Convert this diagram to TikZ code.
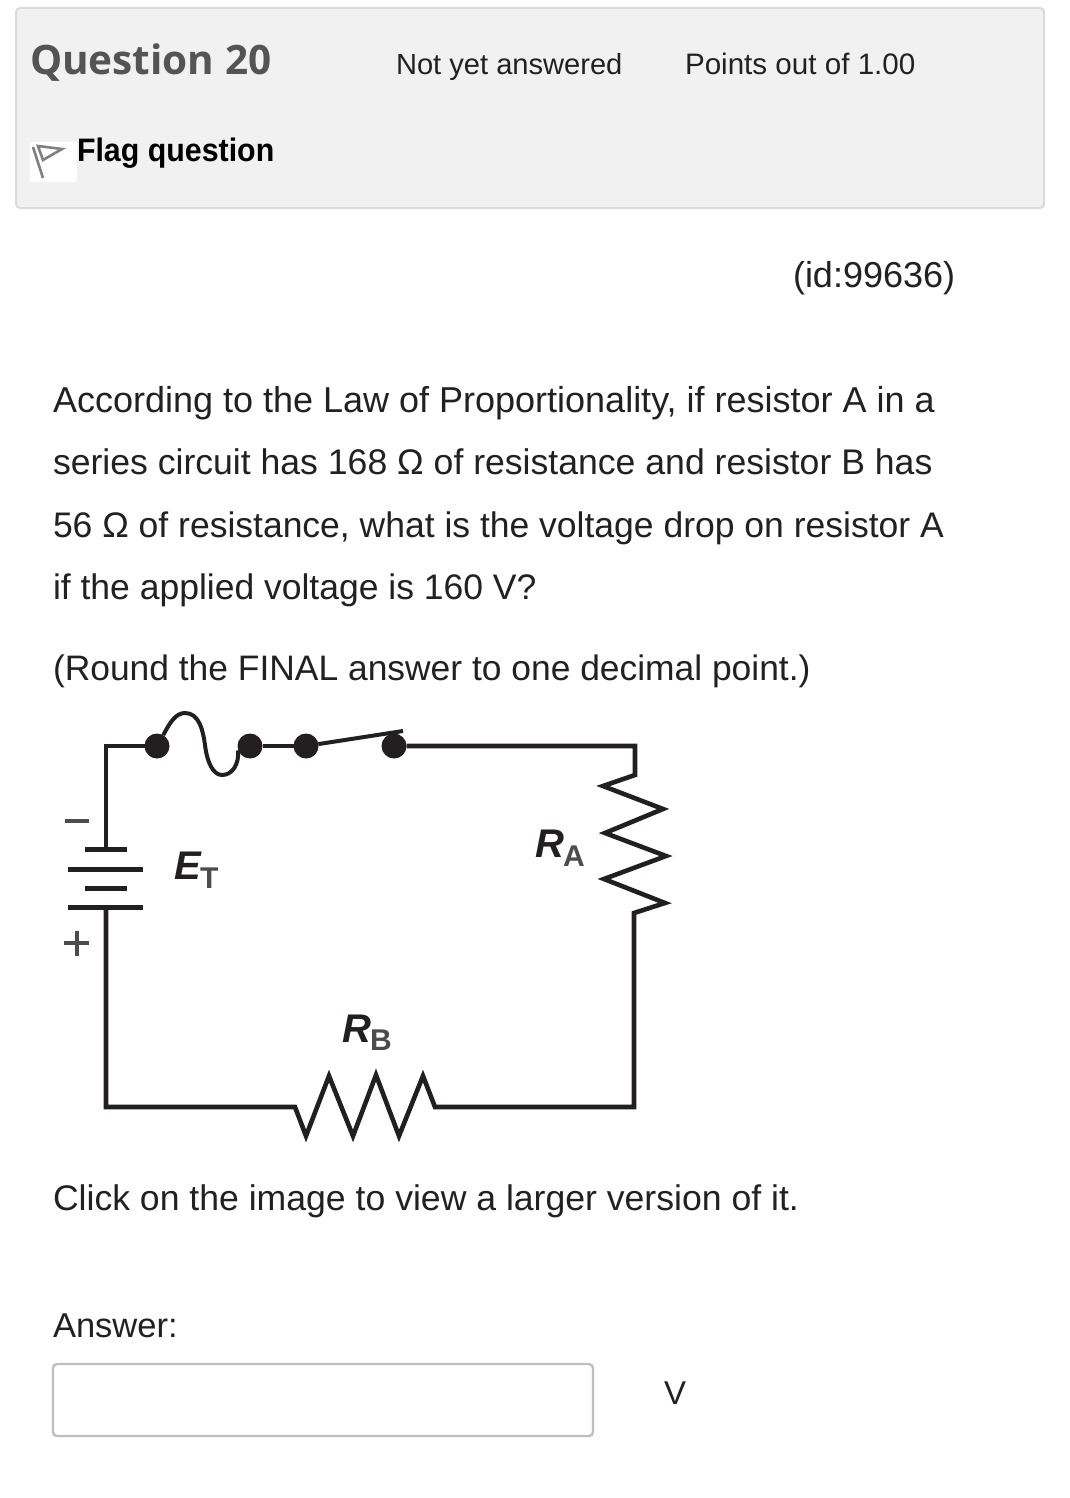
\documentclass[tikz,border=0pt]{standalone}
\usepackage{fontspec}
\setmainfont{Liberation Sans}
\newfontfamily\headfont{Open Sans}
\definecolor{wirecol}{HTML}{231F20}
\definecolor{bodycol}{HTML}{212121}
\tikzset{
  txt/.style={anchor=base west,inner sep=0pt,outer sep=0pt,text=bodycol,font=\fontsize{#1}{#1}\selectfont},
  wire/.style={draw=wirecol,line width=4.6pt,line join=miter},
  plate/.style={draw=wirecol,line width=5pt},
  terminal/.style={circle,fill=wirecol,minimum size=25pt,inner sep=0pt,outer sep=0pt},
  sym/.style={anchor=base west,inner sep=0pt,outer sep=0pt,text=wirecol},
}
\begin{document}
\begin{tikzpicture}[x=1pt,y=-1pt]
\useasboundingbox (0,0) rectangle (1070,1498);
\fill[white] (0,0) rectangle (1070,1498);
% header
\draw[draw=black!14,fill=black!5.5,line width=2pt,rounded corners=4pt] (16,8) rectangle (1044,208);
\node[txt=37,font=\headfont\bfseries\fontsize{40.5}{40.5}\selectfont,text=black!67] (qn) at (30,75) {Question 20};
\node[txt=29.1] (state) at (396,75) {Not yet answered};
\node[txt=29.6] (pts) at (685,75) {Points out of 1.00};
\fill[white] (30,142) rectangle (77,182);
\draw[black!50,line width=2.6pt] (43,178) -- (33,147);
\draw[black!50,line width=2.6pt] (38,146) -- (62,149) -- (43,160) -- cycle;
\node[txt=33,font=\bfseries\addfontfeatures{FakeStretch=0.934}\fontsize{32.5}{32.5}\selectfont,text=black] (flag) at (77,162) {Flag question};
% text
\node[txt=36] (id) at (793,287) {(id:99636)};
\node[txt=36] (l1) at (53,412) {According to the Law of Proportionality, if resistor A in a};
\node[txt=35.6] (l2) at (53,474) {series circuit has 168 Ω of resistance and resistor B has};
\node[txt=35.5] (l3) at (53,537) {56 Ω of resistance, what is the voltage drop on resistor A};
\node[txt=35.5] (l4) at (53,599) {if the applied voltage is 160 V?};
\node[txt=35.4] (l5) at (53,680) {(Round the FINAL answer to one decimal point.)};
\node[txt=35.6] (l6) at (53,1210) {Click on the image to view a larger version of it.};
\node[txt=34.5] (ans) at (53,1337) {Answer:};
\node[txt=33] (unit) at (664,1404) {V};
\draw[draw=black!25,fill=white,line width=2.4pt,rounded corners=4pt] (53,1364) rectangle (593,1436);
% circuit
\node[terminal] (t1) at (157,746) {};
\node[terminal] (t2) at (250,746) {};
\node[terminal] (t3) at (306,746) {};
\node[terminal] (t4) at (394,746) {};
\coordinate (corner1) at (106,746);
\coordinate (corner2) at (635,746);
\coordinate (corner3) at (634,1107);
\coordinate (corner4) at (106,1107);
\coordinate (battop) at (106,849);
\coordinate (batbot) at (106,907);
\coordinate (swend) at (403,731);
\draw[wire] (battop) -- (corner1) -- (t1);
\draw[wire] (t2) -- (t3);
\draw[wire] (t4) -- (corner2) -- (635,775) -- (603,786) -- (663,809) -- (605,833) -- (666,856) -- (604,879) -- (665,903) -- (634,913) -- (corner3)
  -- (435,1107) -- (423,1076) -- (399,1136) -- (376,1075) -- (353,1136) -- (329,1076) -- (306,1136) -- (295,1107) -- (corner4) -- (batbot);
\draw[wire,line width=4pt] (t3) -- (swend);
\draw[wire,line width=4pt] (t1.60) .. controls (170,722) and (176,713) .. (185,713)
  .. controls (199,713) and (203,730) .. (205,745)
  .. controls (207,762) and (213,775) .. (222,775)
  .. controls (232,775) and (239,765) .. (t2.200);
\draw[plate] (85,849) -- (127,849);
\draw[plate] (68,869) -- (143,869);
\draw[plate] (85,888) -- (127,888);
\draw[plate] (68,907) -- (143,907);
\draw[draw=black!70,line width=4pt] (65,821) -- (89,821);
\draw[draw=black!70,line width=4pt] (64,943) -- (89,943) (76.5,931) -- (76.5,956);
\node[sym,font=\bfseries\itshape\fontsize{40}{40}\selectfont] (et) at (174,879) {E};
\node[sym,font=\bfseries\fontsize{30}{30}\selectfont,text=black!70] (ets) at (200,888) {T};
\node[sym,font=\bfseries\itshape\fontsize{40}{40}\selectfont] (ra) at (535,857) {R};
\node[sym,font=\bfseries\fontsize{30}{30}\selectfont,text=black!70] (ras) at (563,866) {A};
\node[sym,font=\bfseries\itshape\fontsize{40}{40}\selectfont] (rb) at (342,1042) {R};
\node[sym,font=\bfseries\fontsize{30}{30}\selectfont,text=black!70] (rbs) at (370,1050) {B};
\end{tikzpicture}
\end{document}
